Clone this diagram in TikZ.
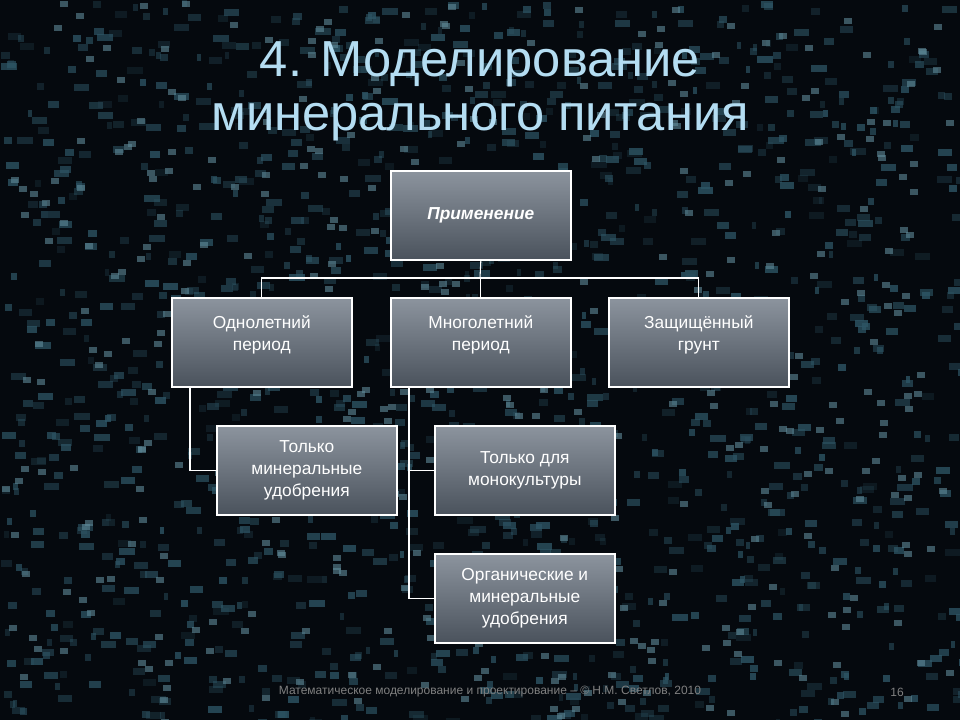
\documentclass[tikz,border=0pt]{standalone}
\usepackage{fontspec}
\setmainfont{Liberation Sans}
\definecolor{bgdark}{HTML}{05090E}
\definecolor{titleblue}{HTML}{B4DDF2}
\definecolor{boxtop}{HTML}{8C949E}
\definecolor{boxbot}{HTML}{4A525C}
\definecolor{pixA}{HTML}{2E5666}
\definecolor{pixB}{HTML}{5F8A99}
\tikzset{
  box/.style={draw=white, line width=1.2pt, top color=boxtop, bottom color=boxbot,
    minimum width=135pt, minimum height=67pt, anchor=north west, text=white,
    font=\fontsize{13pt}{16.5pt}\selectfont, align=center, inner sep=2pt},
  tbox/.style={box},
  link/.style={draw=white, line width=0.8pt},
}
\begin{document}
\begin{tikzpicture}[x=0.75pt,y=-0.75pt]
\fill[bgdark] (0,0) rectangle (960,720);
\useasboundingbox (0,0) rectangle (960,720);
% pixel background
\pgfmathsetseed{7}
\foreach \i in {1,...,1400}{
  \pgfmathsetmacro{\px}{rnd*960}
  \pgfmathsetmacro{\py}{rnd*720}
  \pgfmathsetmacro{\pw}{4+rnd*12}
  \pgfmathsetmacro{\po}{0.2+0.6*rnd}
  \fill[pixA, opacity=\po] (\px,\py) rectangle ++(\pw,7);
}
\foreach \i in {1,...,400}{
  \pgfmathsetmacro{\px}{rnd*960}
  \pgfmathsetmacro{\py}{rnd*720}
  \fill[pixB, opacity=0.6] (\px,\py) rectangle ++(8,6);
}
% title
\node[text=titleblue, font=\fontsize{38pt}{44pt}\selectfont] (t1) at (480,64) {4. Моделирование};
\node[text=titleblue, font=\fontsize{38pt}{44pt}\selectfont] (t2) at (480,122) {минерального питания};
% boxes
\node[box, font=\bfseries\itshape\fontsize{13pt}{15pt}\selectfont] (root) at (390,170) {Применение};
\node[tbox] (one) at (171,297) {Однолетний\\период\\[-2pt]};
\node[tbox] (many) at (390,297) {Многолетний\\период\\[-2pt]};
\node[tbox] (prot) at (608,297) {Защищённый\\грунт\\[-2pt]};
\node[box] (onemin) at (216,425) {Только\\минеральные\\удобрения};
\node[box] (mono) at (434,425) {Только для\\монокультуры};
\node[box] (org) at (434,553) {Органические и\\минеральные\\удобрения};
% connectors
\coordinate (bus) at (480,278);
\draw[link] (root.south) -- (bus);
\draw[link] (bus) -| (one.north);
\draw[link] (bus) -| (many.north);
\draw[link] (bus) -| (prot.north);
\draw[link] (one.south west) ++(19,0) |- (onemin.west);
\draw[link] (many.south west) ++(19,0) |- (mono.west);
\draw[link] (many.south west) ++(19,0) |- (org.west);
% footer
\node[text=gray, font=\fontsize{9pt}{10pt}\selectfont] (foot) at (490,692) {Математическое моделирование и проектирование – © Н.М. Светлов, 2010};
\node[text=gray, font=\fontsize{9pt}{10pt}\selectfont] (page) at (897,692) {16};
\end{tikzpicture}
\end{document}
